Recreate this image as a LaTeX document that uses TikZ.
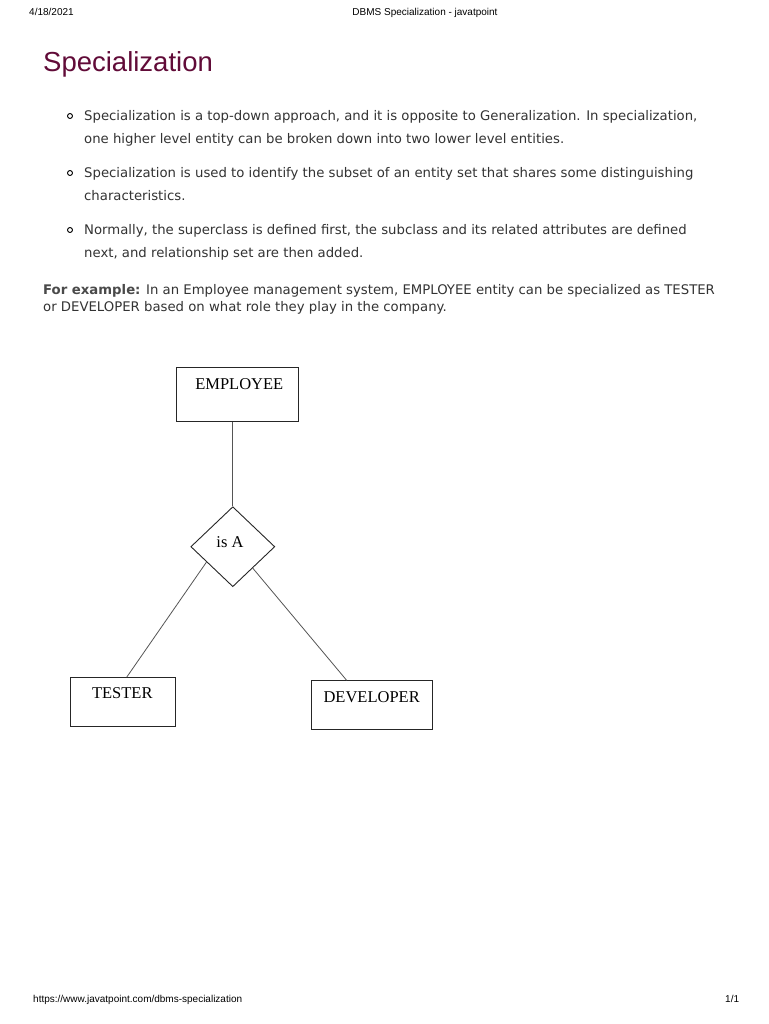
\documentclass[tikz,border=0pt]{standalone}
\usepackage{fontspec}
\setmainfont{Liberation Serif}
\newfontfamily\hdrfont{Liberation Sans}
\newfontfamily\bodyfont{DejaVu Sans}
\usetikzlibrary{shapes.geometric,calc}
\definecolor{titlecol}{HTML}{610B38}
\definecolor{bodycol}{HTML}{333333}
\definecolor{excol}{HTML}{4A4A4A}
\definecolor{linecol}{HTML}{555555}
\tikzset{
  hdr/.style={font=\hdrfont\fontsize{10}{12}\selectfont, text=black, inner sep=0pt, anchor=base west},
  body/.style={font=\bodyfont\fontsize{13.25}{15}\selectfont, text=bodycol, inner sep=0pt, anchor=base west},
  bul/.style={circle, draw=black, line width=0.9pt, minimum size=5pt, inner sep=0pt},
  entity/.style={draw=black!85, line width=0.9pt, rectangle, inner sep=0pt},
  elabel/.style={font=\fontsize{16.5}{18}\selectfont, text=black},
  rel/.style={diamond, draw=black!85, line width=0.9pt, inner sep=0pt, minimum width=84pt, minimum height=80pt, aspect=1.05},
  conn/.style={draw=linecol, line width=0.8pt}
}
\begin{document}
\begin{tikzpicture}[x=1pt,y=-1pt]
\useasboundingbox[fill=white] (0,0) rectangle (768,1024);
% header
\node[hdr] (date) at (29,16) {4/18/2021};
\node[hdr, anchor=base] (htitle) at (425,16) {DBMS Specialization - javatpoint};
% title
\node[font=\hdrfont\fontsize{27.5}{32}\selectfont, text=titlecol, inner sep=0pt, anchor=base west] (title) at (43,72) {Specialization};
% bullets
\node[bul] (b1) at (70,116) {};
\node[body] (l1a) at (84,120.5) {Specialization is a top-down approach, and it is opposite to Generalization. In specialization,};
\node[body] (l1b) at (84,143.5) {one higher level entity can be broken down into two lower level entities.};
\node[bul] (b2) at (70,173) {};
\node[body] (l2a) at (84,177.5) {Specialization is used to identify the subset of an entity set that shares some distinguishing};
\node[body] (l2b) at (84,200.5) {characteristics.};
\node[bul] (b3) at (70,230) {};
\node[body] (l3a) at (84,234.5) {Normally, the superclass is defined first, the subclass and its related attributes are defined};
\node[body] (l3b) at (84,257.5) {next, and relationship set are then added.};
\node[body] (ex1) at (43,294.5) {{\bfseries\color{excol}For example:} In an Employee management system, EMPLOYEE entity can be specialized as TESTER};
\node[body] (ex2) at (43,311.5) {or DEVELOPER based on what role they play in the company.};
% diagram
\node[entity, minimum width=122.5pt, minimum height=54pt] (emp) at (237.3,394.5) {};
\node[elabel] (empt) at (239.3,384) {EMPLOYEE};
\node[rel] (isa) at (232.8,546.7) {};
\node[elabel] (isat) at (230,541.7) {is A};
\node[entity, minimum width=104.6pt, minimum height=48.3pt] (tes) at (123,701.8) {};
\node[elabel] (test) at (122.3,693.3) {TESTER};
\node[entity, minimum width=121pt, minimum height=48.6pt] (dev) at (372.2,705) {};
\node[elabel] (devt) at (371.7,696.7) {DEVELOPER};
% connectors
\coordinate (empb) at (emp.south -| isa.north);
\coordinate (isal) at ($(isa.west)!0.38!(isa.south)$);
\coordinate (isar) at ($(isa.east)!0.53!(isa.south)$);
\coordinate (test0) at ($(tes.north west)!0.535!(tes.north east)$);
\coordinate (devt0) at ($(dev.north west)!0.29!(dev.north east)$);
\draw[conn] (empb) -- (isa.north);
\draw[conn] (isal) -- (test0);
\draw[conn] (isar) -- (devt0);
% footer
\node[hdr] (url) at (33,1002) {https://www.javatpoint.com/dbms-specialization};
\node[hdr] (page) at (725,1002) {1/1};
\end{tikzpicture}
\end{document}
